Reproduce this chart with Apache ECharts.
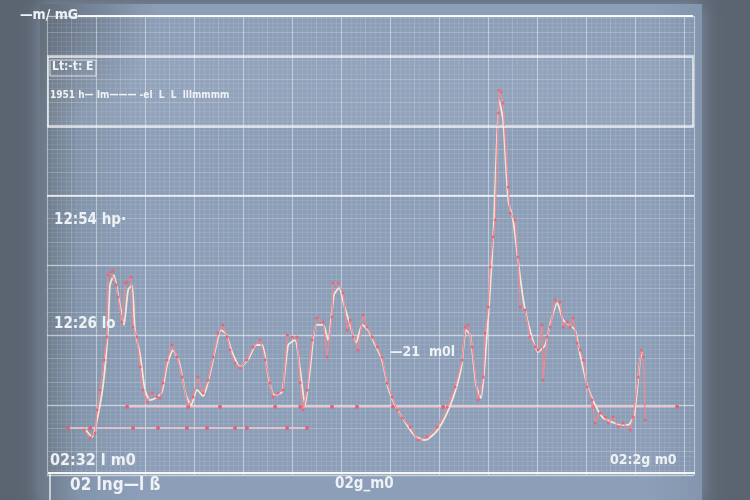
<!DOCTYPE html>
<html>
<head>
<meta charset="utf-8">
<script src="https://cdn.jsdelivr.net/npm/echarts@6/dist/echarts.min.js"></script>
<style>html,body{margin:0;padding:0;background:#5b6571;}#c{width:750px;height:500px;}</style>
</head>
<body>
<div id="c"></div>
<script>
// ---- data (x: time index, y: level) ----
const traceX = [15.1,17.6,19.6,20.4,21.6,23.3,24.5,24.9,26.1,26.9,28.2,29.0,30.6,31.8,32.7,34.3,35.1,36.7,38.0,39.2,40.8,42.9,44.9,46.1,47.3,49.0,51.0,53.1,55.1,57.6,59.6,61.6,63.7,65.7,67.8,69.8,71.8,73.5,74.7,76.7,78.8,81.6,84.1,86.9,89.0,91.0,92.2,94.3,96.3,98.0,100.0,102.0,103.3,104.5,106.1,108.2,110.2,112.7,114.3,116.3,116.7,118.8,120.8,122.4,123.7,124.9,126.9,129.0,130.6,132.7,134.7,136.7,138.8,140.8,142.9,144.9,148.2,151.4,155.1,159.2,163.3,166.5,169.4,170.6,171.8,173.5,175.9,178.0,178.8,180.0,180.8,182.0,182.9,184.1,184.5,185.3,186.1,188.2,189.0,191.0,192.2,193.1,195.1,197.1,199.2,200.4,202.0,202.4,204.1,205.3,207.3,209.4,210.6,212.2,213.5,214.7,216.3,217.6,218.8,220.4,222.4,223.7,225.7,227.8,229.0,231.0,233.1,235.1,238.0,239.2,241.2,242.4,243.3,244.1];
const traceRed = [19.3,15.9,18.0,27.9,36.5,49.4,59.2,85.8,87.1,87.6,81.5,76.4,65.7,82.4,82.8,85.0,63.5,59.2,46.4,36.5,31.3,35.2,33.5,33.0,39.5,49.4,55.8,50.6,42.1,29.2,33.5,42.1,35.2,40.8,50.6,60.9,64.4,59.2,53.6,48.1,45.9,49.4,54.9,57.9,49.4,39.5,33.5,35.2,36.5,60.1,59.2,59.2,39.5,27.9,36.5,57.9,67.4,65.7,50.6,67.8,82.4,82.4,78.1,62.2,66.5,59.2,53.6,68.7,63.5,59.2,54.9,50.6,39.5,33.5,27.9,24.5,20.6,15.0,16.3,20.6,29.2,37.8,49.4,63.5,64.4,54.9,32.2,42.1,60.9,72.1,89.3,102.1,109.4,155.4,165.2,164.4,159.7,123.6,112.4,109.4,93.6,72.1,70.8,59.2,54.9,53.6,64.4,40.8,59.2,63.5,75.1,74.2,63.5,65.7,63.5,67.4,56.7,53.6,49.4,37.8,32.2,22.3,26.6,24.9,22.3,24.9,20.6,22.3,19.3,24.9,42.1,53.6,50.6,23.6];

const creamX = [15.9,18.4,20.4,22.9,24.9,25.7,27.3,29.4,31.4,33.1,34.7,35.9,38.0,40.0,42.0,44.5,46.9,49.0,51.4,53.9,56.7,58.8,61.2,63.7,66.1,68.6,71.0,73.1,75.5,78.8,82.0,85.3,87.8,90.2,92.7,95.9,98.4,101.2,103.3,105.3,107.3,109.8,112.7,114.7,117.1,119.2,121.2,123.7,126.1,128.6,131.0,133.9,136.7,139.2,142.0,146.1,150.2,154.3,158.8,162.9,166.1,169.0,171.0,172.7,175.1,177.1,179.2,180.8,182.4,184.5,186.1,188.2,190.2,192.7,194.7,197.6,200.4,203.3,205.7,208.2,210.6,213.1,215.5,217.6,220.4,223.7,226.9,230.6,233.9,237.1,239.6,242.0,242.9];
const creamY = [19.3,16.3,23.6,38.6,62.2,81.5,85.8,75.1,64.4,79.4,81.5,62.2,51.5,36.5,32.2,33.0,35.6,47.2,53.6,48.5,34.3,30.0,36.5,33.9,41.6,53.6,62.2,60.5,52.8,46.4,49.4,55.8,55.8,42.9,34.3,35.6,55.8,57.9,45.1,30.0,45.1,64.4,64.4,57.9,77.3,80.3,73.0,64.4,56.7,64.4,62.2,55.8,49.4,37.3,30.0,22.7,16.7,15.0,18.5,25.8,34.3,45.9,62.2,60.1,38.6,33.0,55.8,79.4,109.4,160.9,152.4,118.0,109.4,88.0,73.0,60.1,52.8,55.8,66.5,73.8,66.5,64.4,62.2,51.5,38.6,30.0,24.5,22.7,21.5,21.5,25.8,49.4,52.8];

const levelUpperX = [32.7,57.6,70.6,93.1,103.3,116.3,126.5,141.2,161.6,222.9,257.1];
const levelUpperY = 29.3;
const levelLowerX = [8.6,17.6,35.1,45.3,57.1,65.3,76.7,81.6,98.0,106.1];
const levelLowerY = 20.2;
const guideLevels = [120];

const annotationTexts = ['\u2014m/ mG', 'Lt:-t: E', '1951 h\u2014 Im\u2014\u2014\u2014 -el  L  L  lllmmmm', '12:54 hp\u00B7', '12:26 lo', '02:32 l m0', '\u201421  m0l', '02:2g m0', '02 lng\u2014l \u00DF', '02g_m0'];

const pairs = (xs, ys) => xs.map((x, i) => [x, Array.isArray(ys) ? ys[i] : ys]);

const chart = echarts.init(document.getElementById('c'), null, {renderer: 'canvas'});
const fontFam = '"DejaVu Sans Condensed","Liberation Sans Narrow","DejaVu Sans",sans-serif';
const txt = (i, x, y, size, weight) => ({
  type: 'text', left: x, top: y, z: 50,
  style: {text: annotationTexts[i], fill: '#eef1f5', font: (weight || 'bold') + ' ' + size + 'px ' + fontFam}
});
const hidden = {show: false};
chart.setOption({
  backgroundColor: '#5b6571',
  animation: false,
  grid: {left: 47, right: 56, top: 16, bottom: 25, show: false},
  xAxis: [
    {type: 'value', min: 0, max: 264, interval: 10, axisLine: hidden, axisTick: hidden, axisLabel: hidden,
     splitLine: {show: true, lineStyle: {color: 'rgba(255,255,255,0.17)', width: 1}},
     minorTick: {show: false, splitNumber: 5},
     minorSplitLine: {show: true, lineStyle: {color: 'rgba(255,255,255,0.08)', width: 1}}},
    {type: 'value', min: 0, max: 264, interval: 20, position: 'top', axisLine: hidden, axisTick: hidden, axisLabel: hidden,
     splitLine: {show: true, lineStyle: {color: 'rgba(255,255,255,0.32)', width: 1.2}}}
  ],
  yAxis: [
    {type: 'value', min: 0, max: 197, interval: 10, axisLine: hidden, axisTick: hidden, axisLabel: hidden,
     splitLine: {show: true, lineStyle: {color: 'rgba(255,255,255,0.22)', width: 1}},
     minorTick: {show: false, splitNumber: 5},
     minorSplitLine: {show: true, lineStyle: {color: 'rgba(255,255,255,0.08)', width: 1}}},
    {type: 'value', min: 0, max: 197, interval: 30, position: 'right', axisLine: hidden, axisTick: hidden, axisLabel: hidden,
     splitLine: {show: true, lineStyle: {color: 'rgba(255,255,255,0.42)', width: 1.4}}}
  ],
  graphic: [
    {type: 'rect', z: -20, shape: {x: 0, y: 0, width: 750, height: 500}, style: {fill: '#5b6571'}},
    {type: 'rect', z: -19, shape: {x: 40, y: 4, width: 662, height: 500},
     style: {fill: new echarts.graphic.LinearGradient(0, 0, 1, 0, [
       {offset: 0, color: '#6b7886'}, {offset: 0.06, color: '#8395ac'}, {offset: 0.15, color: '#8d9fb8'},
       {offset: 0.92, color: '#8d9fb8'}, {offset: 1, color: '#8496ae'}]),
       shadowBlur: 18, shadowColor: 'rgba(140,158,182,0.8)'}},
    {type: 'rect', z: -18, shape: {x: 40, y: 4, width: 120, height: 260},
     style: {fill: new echarts.graphic.RadialGradient(0, 0, 1, [
       {offset: 0, color: 'rgba(95,105,118,0.75)'}, {offset: 1, color: 'rgba(95,105,118,0)'}])}},
    {type: 'line', z: 40, shape: {x1: 78, y1: 16, x2: 693, y2: 16}, style: {stroke: 'rgba(255,255,255,0.92)', lineWidth: 2}},
    {type: 'rect', z: 40, shape: {x: 48, y: 57, width: 645, height: 70},
     style: {fill: 'rgba(255,255,255,0.05)', stroke: 'rgba(255,255,255,0.85)', lineWidth: 1.5}},
    {type: 'rect', z: 40, shape: {x: 50, y: 60, width: 46, height: 16}, style: {fill: 'none', stroke: 'rgba(255,255,255,0.7)', lineWidth: 1}},
    {type: 'line', z: 40, shape: {x1: 48, y1: 473, x2: 695, y2: 473}, style: {stroke: 'rgba(255,255,255,0.9)', lineWidth: 2}},
    {type: 'line', z: 40, shape: {x1: 50, y1: 473, x2: 50, y2: 500}, style: {stroke: 'rgba(255,255,255,0.8)', lineWidth: 1.5}},
    txt(0, 20, 8, 14),
    txt(1, 52, 61, 12),
    txt(2, 50, 90, 10),
    txt(3, 54, 213, 15),
    txt(4, 54, 317, 15),
    txt(5, 50, 453, 16),
    txt(6, 390, 345, 14),
    txt(7, 610, 453, 14),
    txt(8, 70, 477, 17),
    txt(9, 335, 477, 15)
  ],
  series: [
    {type: 'line', name: 'guide', xAxisIndex: 0, yAxisIndex: 0, data: [], silent: true,
     markLine: {silent: true, symbol: 'none', label: hidden,
       lineStyle: {color: 'rgba(255,255,255,0.85)', type: 'solid', width: 1.6},
       data: guideLevels.map(v => ({yAxis: v}))}},
    {type: 'line', name: 'lower', xAxisIndex: 0, yAxisIndex: 0, data: pairs(levelLowerX, levelLowerY),
     symbol: 'circle', symbolSize: 4, itemStyle: {color: '#e4607a'}, lineStyle: {color: '#f0c9d0', width: 1.6}, z: 5},
    {type: 'line', name: 'upper', xAxisIndex: 0, yAxisIndex: 0, data: pairs(levelUpperX, levelUpperY),
     symbol: 'circle', symbolSize: 4, itemStyle: {color: '#e4607a'}, lineStyle: {color: '#eec3cc', width: 1.6}, z: 5},
    {type: 'line', name: 'cream', xAxisIndex: 0, yAxisIndex: 0, data: pairs(creamX, creamY),
     showSymbol: false, smooth: 0.2, lineStyle: {color: '#f4e6d8', width: 1.8}, z: 6},
    {type: 'line', name: 'red', xAxisIndex: 0, yAxisIndex: 0, data: pairs(traceX, traceRed),
     symbol: 'circle', symbolSize: 3, itemStyle: {color: '#e4687c'}, lineStyle: {color: '#ea8a94', width: 1.3}, z: 7}
  ]
});
</script>
</body>
</html>
